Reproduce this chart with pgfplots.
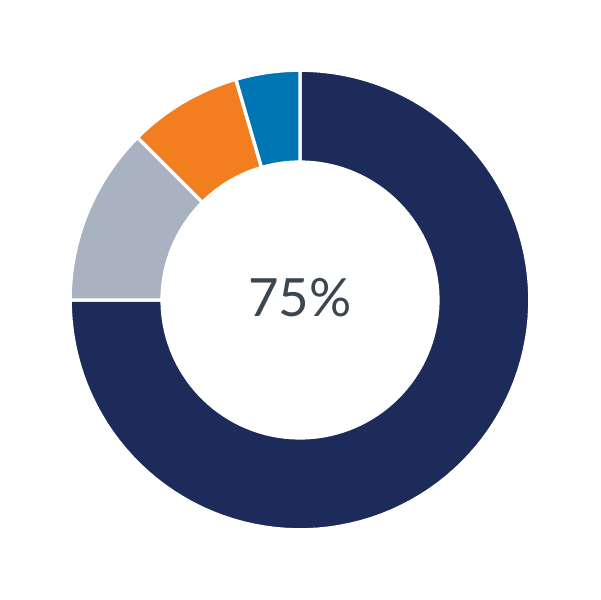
\documentclass[border=0pt]{standalone}
\usepackage{pgfplots}
\pgfplotsset{compat=1.18}
\usepackage{pgfplotstable}
\usepackage{fontspec}
\setmainfont{Lato}
\definecolor{cNavy}{HTML}{1C2B5A}
\definecolor{cGray}{HTML}{A8B2C0}
\definecolor{cOrange}{HTML}{F27E20}
\definecolor{cBlue}{HTML}{0075B4}
\definecolor{cText}{HTML}{3C4650}
% slice values (percent), clockwise from 12 o'clock
\pgfplotstableread{
value
75
12.5
8
4.5
}\slices
\begin{document}
\begin{tikzpicture}
\pgfmathsetmacro{\Ro}{1}
\pgfmathsetmacro{\Ri}{0.600}
\begin{axis}[
  width=10cm, height=10cm, scale only axis,
  xmin=-1.305, xmax=1.305, ymin=-1.305, ymax=1.305,
  hide axis, clip=false,
]
\path (rel axis cs:0,0) rectangle (rel axis cs:1,1);
\def\startang{90}
\pgfplotsforeachungrouped \i/\col in {0/cNavy,1/cGray,2/cOrange,3/cBlue}{
  \pgfplotstablegetelem{\i}{value}\of\slices
  \pgfmathsetmacro{\aA}{\startang}
  \pgfmathsetmacro{\aB}{\startang-3.6*\pgfplotsretval}
  \edef\temp{\noexpand\addplot[fill=\col, draw=white, line width=1.6pt, line join=miter,
    domain=0:3, samples=301, variable=\noexpand\t]
    ({(\noexpand\t<1.5 ? \Ro : \Ri)*cos(\aA+(\aB-\aA)*(\noexpand\t<1.5 ? min(\noexpand\t,1) : 1-max(\noexpand\t-2,0)))},
     {(\noexpand\t<1.5 ? \Ro : \Ri)*sin(\aA+(\aB-\aA)*(\noexpand\t<1.5 ? min(\noexpand\t,1) : 1-max(\noexpand\t-2,0)))}) -- cycle;}
  \temp
  \xdef\startang{\aB}
}
\node[text=cText, font=\fontsize{25}{30}\selectfont] at (axis cs:0,0.01) {75\%};
\end{axis}
\end{tikzpicture}
\end{document}
